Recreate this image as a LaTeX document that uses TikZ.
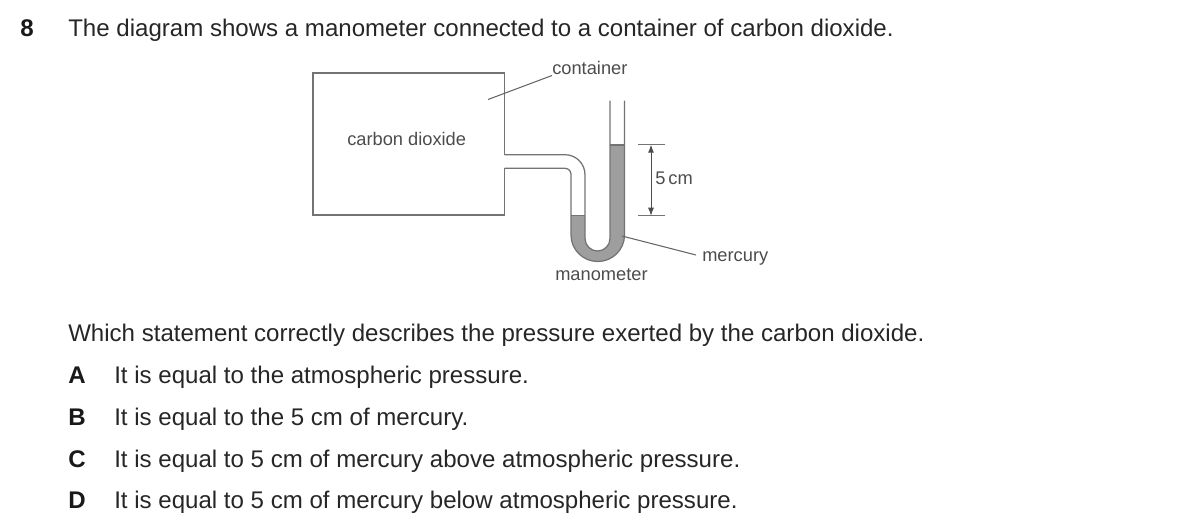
\documentclass[tikz,border=0pt]{standalone}
\usepackage{fontspec}
\setmainfont{Liberation Sans}
\usetikzlibrary{arrows.meta}
\tikzset{
  px/.style={x=0.75pt,y=-0.75pt},
  body/.style={anchor=base west,inner sep=0pt,font=\fontsize{18.05}{20}\selectfont,text=black!85},
  letter/.style={anchor=base west,inner sep=0pt,font=\fontsize{18.05}{20}\selectfont\bfseries,text=black!90},
  lab/.style={inner sep=0pt,anchor=base west,font=\fontsize{13.7}{15}\selectfont,text=black!70},
  wall/.style={draw=black!55,line width=1.1pt},
  thin wall/.style={draw=black!55,line width=0.95pt},
  lead/.style={draw=black!60,line width=0.8pt},
  dimarrow/.style={draw=black!70,line width=0.7pt,{Latex[length=6pt,width=4.5pt]}-{Latex[length=6pt,width=4.5pt]}}
}
\begin{document}
\begin{tikzpicture}[px]
\useasboundingbox (0,0) rectangle (1200,526);
% mercury
\fill[black!38] (571,216) -- (585,216) -- (585,238.5) arc[start angle=180,end angle=0,radius=12.5] -- (610,145) -- (624.5,145) -- (624.5,235) arc[start angle=0,end angle=180,x radius=26.75,y radius=26.5] -- cycle;
% container and tube
\draw[wall] (504.5,154.7) -- (504.5,73) -- (313,73) -- (313,215) -- (504.5,215) -- (504.5,168.3);
\draw[thin wall] (504.5,154.7) -- (565,154.7) arc[start angle=-90,end angle=0,radius=20] -- (585,238.5) arc[start angle=180,end angle=0,radius=12.5] -- (610,100.7);
\draw[thin wall] (504.5,168.3) -- (565,168.3) arc[start angle=-90,end angle=0,radius=6] -- (571,235) arc[start angle=180,end angle=0,x radius=26.75,y radius=26.5] -- (624.5,100.7);
\draw[thin wall] (571,215.7) -- (585,215.7);
\draw[thin wall] (610,145) -- (624.5,145);
% dimension
\coordinate (dt) at (651,144.7);
\coordinate (db) at (651,215.7);
\draw[thin wall] (638,144.7) -- (665,144.7);
\draw[thin wall] (638,215.7) -- (665,215.7);
\draw[dimarrow] (dt) -- (db);
% labels
\node[lab] (lcontainer) at (552,74) {container};
\node[lab] (lcarbon) at (347,145) {carbon dioxide};
\node[lab] (lfive) at (655,184) {5\,cm};
\node[lab] (lmercury) at (702,261) {mercury};
\node[lab] (lmano) at (555,280) {manometer};
\coordinate (cin) at (488,99.5);
\coordinate (min) at (622,236);
\coordinate (cout) at (552,75.5);
\coordinate (mout) at (696,255);
\draw[lead] (cin) -- (cout);
\draw[lead] (min) -- (mout);
% text
\node[letter] (q) at (20,36) {8};
\node[body] (t1) at (68,36) {The diagram shows a manometer connected to a container of carbon dioxide.};
\node[body] (t2) at (68,341) {Which statement correctly describes the pressure exerted by the carbon dioxide.};
\node[letter] (la) at (68,383) {A};
\node[body] (ta) at (114,383) {It is equal to the atmospheric pressure.};
\node[letter] (lb) at (68,425) {B};
\node[body] (tb) at (114,425) {It is equal to the 5 cm of mercury.};
\node[letter] (lc) at (68,467) {C};
\node[body] (tc) at (114,467) {It is equal to 5 cm of mercury above atmospheric pressure.};
\node[letter] (ld) at (68,508) {D};
\node[body] (td) at (114,508) {It is equal to 5 cm of mercury below atmospheric pressure.};
\end{tikzpicture}
\end{document}
